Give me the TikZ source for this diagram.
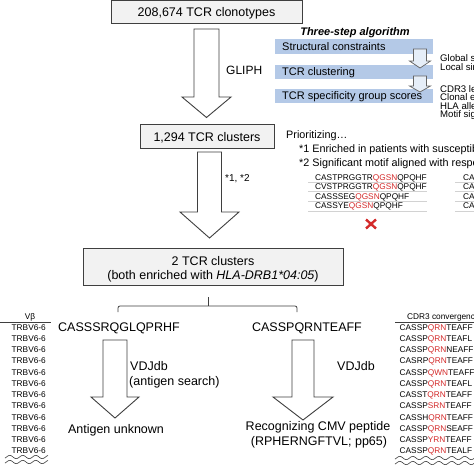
\documentclass[tikz,border=0pt]{standalone}
\usepackage{fontspec}
\setmainfont{Liberation Sans}
\definecolor{edge}{HTML}{3F3F3F}
\definecolor{boxfill}{HTML}{F2F2F2}
\definecolor{barblue}{HTML}{B4C9E7}
\definecolor{pale}{HTML}{E6EEF8}
\definecolor{motifred}{HTML}{D42A2A}
\definecolor{sepgray}{HTML}{D2D2D2}
\newcommand\myblockarrow[7]{%
  \draw[#7] (#1-#5,#2) -- (#1+#5,#2) -- (#1+#5,#3) -- (#1+#6,#3) -- (#1,#4) -- (#1-#6,#3) -- (#1-#5,#3) -- cycle;}
\tikzset{
  mainlbl/.style={font=\fontsize{12.5}{14}\selectfont, inner sep=0pt},
  midlbl/.style={font=\fontsize{10.8}{12}\selectfont, inner sep=0pt},
  barlbl/.style={font=\fontsize{11}{12}\selectfont, inner sep=0pt},
  notelbl/.style={font=\fontsize{9.6}{10}\selectfont, inner sep=0pt},
  tbl/.style={font=\fontsize{8.3}{9}\selectfont, inner sep=0pt},
  boxst/.style={draw=edge, fill=boxfill, line width=0.9pt, inner sep=0pt},
  harrow/.style={draw=edge, fill=white, line width=0.9pt, line join=miter},
  sarrow/.style={draw=edge!80, fill=pale, line width=0.7pt, line join=miter},
  bar/.style={fill=barblue, draw=none},
  sep/.style={draw=sepgray, line width=0.5pt},
  wavy/.style={draw=edge, line width=0.6pt},
}
\begin{document}
\begin{tikzpicture}[x=1pt,y=-1pt]
\clip (0,0) rectangle (474,474);
\fill[white] (0,0) rectangle (474,474);

% top box
\draw[boxst] (111,0.6) rectangle (302,23.5);
\node[mainlbl, anchor=base] (top) at (206.5,16.5) {208,674 TCR clonotypes};

% arrow 1
\myblockarrow{206.5}{29}{97}{117.5}{12.5}{24.5}{harrow}
\node[font=\fontsize{12}{14}\selectfont, inner sep=0pt, anchor=base west] (gliph) at (226,74.3) {GLIPH};

% three-step algorithm panel
\node[font=\fontsize{11}{12}\bfseries\itshape\selectfont, inner sep=0pt, anchor=base] (algo) at (355,35.4) {Three-step algorithm};
\fill[bar] (275,39) rectangle (433,54);
\fill[bar] (275,64.5) rectangle (433,79);
\fill[bar] (275,88.5) rectangle (433,103);
\node[barlbl, anchor=base west] (s1) at (282,50.4) {Structural constraints};
\node[barlbl, anchor=base west] (s2) at (282,75.6) {TCR clustering};
\node[barlbl, anchor=base west] (s3) at (282,99.6) {TCR specificity group scores};
\myblockarrow{420}{49}{61}{68}{6.5}{10.5}{sarrow}
\myblockarrow{420}{76}{86}{92}{6.5}{10.5}{sarrow}
\node[notelbl, anchor=base west] (n1) at (440,61.5) {Global similarity};
\node[notelbl, anchor=base west] (n2) at (440,70) {Local similarity};
\node[notelbl, anchor=base west] (n3) at (440,92.2) {CDR3 length};
\node[notelbl, anchor=base west] (n4) at (440,100.6) {Clonal expansion};
\node[notelbl, anchor=base west] (n5) at (440,109) {HLA allele};
\node[notelbl, anchor=base west] (n6) at (440,117.4) {Motif significance};

% 1,294 box
\draw[boxst] (140,124.5) rectangle (274,148.5);
\node[mainlbl, anchor=base] (clu) at (207,141) {1,294 TCR clusters};

% prioritizing
\node[midlbl, anchor=base west] (prio) at (286,138.4) {Prioritizing…};
\node[midlbl, anchor=base west] (p1) at (299,152.9) {*1 Enriched in patients with susceptibility};
\node[midlbl, anchor=base west] (p2) at (299,166.9) {*2 Significant motif aligned with response};
\foreach \a/\b/\c [count=\k] in {CASTPRGGTR/QGSN/QPQHF, CVSTPRGGTR/QGSN/QPQHF, CASSSEG/QGSN/QPQHF, CASSYE/QGSN/QPQHF}{
  \pgfmathsetmacro\yy{180+9.6*(\k-1)}
  \node[tbl, anchor=base west] (u\k) at (315,\yy) {\a\textcolor{motifred}{\b}\c};
  \node[tbl, anchor=base west] (v\k) at (463,\yy) {CAS};
  \pgfmathsetmacro\ys{182+9.6*(\k-1)}
  \draw[sep] (308,\ys) -- (427,\ys);
  \draw[sep] (455,\ys) -- (474,\ys);
}
\draw[motifred, line width=2.4pt] (366,219.5) -- (376,228.5) (366,228.5) -- (376,219.5);

% arrow 2
\myblockarrow{209.5}{152}{212}{238}{12}{29.5}{harrow}
\node[font=\fontsize{10}{12}\selectfont, inner sep=0pt, anchor=base west] (star) at (225,181.6) {*1, *2};

% 2 TCR clusters box
\draw[boxst] (83,248) rectangle (343,285);
\node[mainlbl, anchor=base] (two1) at (213,265.5) {2 TCR clusters};
\node[mainlbl, anchor=base] (two2) at (213,279.5) {(both enriched with \textit{HLA-DRB1*04:05})};

% bracket
\coordinate (bl) at (118,312);
\coordinate (br) at (297,312);
\coordinate (bc) at (208,297);
\draw[edge, line width=0.8pt, rounded corners=2pt] (bl) -- (118,306) -- (297,306) -- (br);
\draw[edge, line width=0.8pt] (bc) -- (208,306);

% two sequences
\node[mainlbl, anchor=base] (seqL) at (119,331.5) {CASSSRQGLQPRHF};
\node[mainlbl, anchor=base] (seqR) at (307,331.5) {CASSPQRNTEAFF};

% bottom arrows
\myblockarrow{115}{340}{397}{418}{12}{24}{harrow}
\myblockarrow{303}{340}{397}{420}{11}{30}{harrow}
\node[mainlbl, anchor=base west] (vdj1) at (130,370.5) {VDJdb};
\node[mainlbl, anchor=base west] (vdj1b) at (129,385.5) {(antigen search)};
\node[mainlbl, anchor=base west] (vdj2) at (337,370.5) {VDJdb};
\node[mainlbl, anchor=base] (unk) at (116,433.5) {Antigen unknown};
\node[mainlbl, anchor=base] (cmv1) at (318,430.5) {Recognizing CMV peptide};
\node[mainlbl, anchor=base] (cmv2) at (319,445.5) {(RPHERNGFTVL; pp65)};

% left table
\node[tbl, anchor=base] (vb) at (30,319) {Vβ};
\draw[edge, line width=0.6pt] (0,322) -- (51,322);
\foreach \k in {1,...,12}{
  \pgfmathsetmacro\yy{330+11.27*(\k-1)}
  \node[tbl, anchor=base east] (l\k) at (46,\yy) {TRBV6-6};
}
\draw[wavy] plot[domain=5:48, samples=80, smooth] (\x, {457+1.6*sin(27.69*\x)});
\draw[wavy] plot[domain=5:48, samples=80, smooth] (\x, {462+1.6*sin(27.69*\x)});

% right table
\node[tbl, anchor=base west] (cdr) at (407,319.5) {CDR3 convergence};
\draw[edge, line width=0.6pt] (395,322) -- (474,322);
\foreach \a/\b/\c [count=\k] in {CASSP/QRN/TEAFF, CASSP/QRN/TEAFL, CASSP/QRN/NEAFF, CASRP/QRN/TEAFF, CASSP/QWN/TEAFF, CASSP/QRN/TEAFL, CASST/QRN/TEAFF, CASSP/SRN/TEAFF, CASSH/QRN/TEAFF, CASSP/QRN/SEAFF, CASSP/YRN/TEAFF, CASSP/QRN/TEALF}{
  \pgfmathsetmacro\yy{330+11.27*(\k-1)}
  \node[tbl, anchor=base west] (r\k) at (399.5,\yy) {\a\textcolor{motifred}{\b}\c};
}
\draw[wavy] plot[domain=395:474, samples=120, smooth] (\x, {458+1.6*sin(27.69*\x)});
\draw[wavy] plot[domain=395:474, samples=120, smooth] (\x, {463+1.6*sin(27.69*\x)});
\end{tikzpicture}
\end{document}
